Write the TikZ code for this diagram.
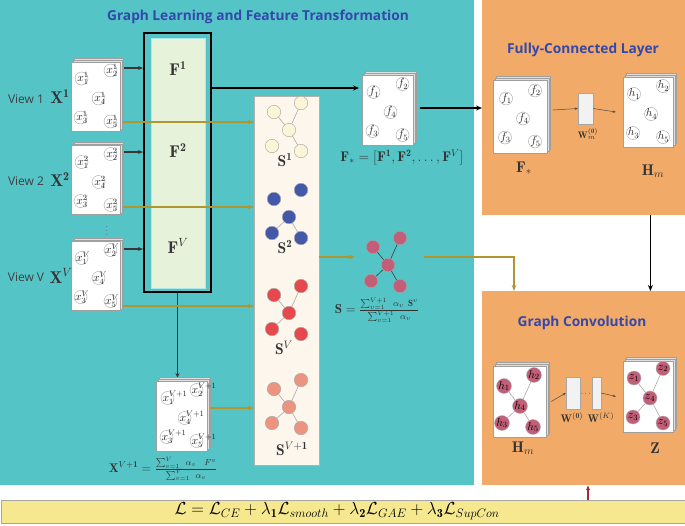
\RequirePackage{fix-cm}
\documentclass[tikz,border=0pt]{standalone}
\usepackage{amsmath}
\usepackage{fontspec}
\newfontfamily\osans{Open Sans}
\usetikzlibrary{arrows.meta,shadows}
\definecolor{teal1}{RGB}{84,196,199}
\definecolor{orng}{RGB}{241,170,103}
\definecolor{ttlblue}{RGB}{52,72,172}
\definecolor{fgreen}{RGB}{230,242,218}
\definecolor{fedge}{RGB}{175,232,232}
\definecolor{cream}{RGB}{252,246,236}
\definecolor{olv}{RGB}{176,150,46}
\definecolor{lossy}{RGB}{246,232,142}
\definecolor{ns1}{RGB}{250,245,214}
\definecolor{ns2}{RGB}{68,88,170}
\definecolor{nsv}{RGB}{230,72,78}
\definecolor{nsv1}{RGB}{236,148,128}
\definecolor{nss}{RGB}{194,94,120}
\definecolor{redarr}{RGB}{165,40,50}
\definecolor{dkgray}{RGB}{55,55,55}
\newcommand\cfont{\fontsize{11.5}{12}\selectfont}
\begin{document}
\begin{tikzpicture}[x=1pt,y=-1pt,
  panel/.style={anchor=north west, inner sep=0pt, draw=none},
  ttl/.style={font=\osans\bfseries\fontsize{13.7}{15}\selectfont, text=ttlblue},
  page/.style={draw=gray!75, fill=white, line width=0.4pt, inner sep=0pt,
    double copy shadow={shadow xshift=1.8pt, shadow yshift=1.8pt, fill=gray!25, draw=gray!75}},
  circ/.style={circle, draw=gray!75, fill=white, minimum size=13pt, inner sep=0pt, line width=0.4pt},
  clbl/.style={font=\cfont, inner sep=0pt, text=black!85, xshift=#1},
  clbl/.default=1.5pt,
  gnode/.style={circle, draw=gray!70, minimum size=13.5pt, inner sep=0pt, line width=0.4pt},
  hnode/.style={circle, draw=gray!60, fill=nss, minimum size=14pt, inner sep=0pt, line width=0.4pt, font=\cfont},
  gedge/.style={draw=gray!75, line width=0.5pt},
  dk/.style={draw=dkgray, line width=1.3pt, -{Stealth[length=5pt,width=4pt]}},
  blk/.style={draw=black, line width=1.6pt, -{Stealth[length=6pt,width=5pt]}},
  olvarr/.style={draw=olv, line width=1.4pt, -{Stealth[length=6pt,width=4.5pt]}},
  thinarr/.style={draw=gray!60!black, line width=0.5pt, -{Stealth[length=3pt,width=2.5pt]}},
  redar/.style={draw=redarr, line width=1.2pt, -{Stealth[length=5pt,width=4pt]}},
  wbox/.style={draw=gray!70, fill=gray!10, line width=0.4pt, inner sep=0pt},
  mlbl/.style={font=\fontsize{15.5}{17}\selectfont, text=black!80, inner sep=1pt},
  blbl/.style={font=\fontsize{17}{19}\selectfont, text=black!80, inner sep=1pt},
  view/.style={font=\osans\fontsize{12}{14}\selectfont, text=black!75, inner sep=1pt}
]
\useasboundingbox (0,0) rectangle (685,525);
% panels
\node[panel, fill=teal1, minimum width=474pt, minimum height=485pt] (GL) at (0,0) {};
\node[panel, fill=orng, minimum width=203pt, minimum height=215pt] (FC) at (482,0) {};
\node[panel, fill=orng, minimum width=203pt, minimum height=194pt] (GC) at (482,291) {};
\node[panel, fill=lossy, draw=gray!70, line width=0.8pt, minimum width=684pt, minimum height=23pt] (Loss) at (0.5,500) {};
% titles
\node[ttl] (tGL) at (258,17) {Graph Learning and Feature Transformation};
\node[ttl] (tFC) at (583,50) {Fully-Connected Layer};
\node[ttl] (tGC) at (582,323) {Graph Convolution};
\node[font=\fontsize{17.5}{19}\selectfont] (lossT) at (337,511)
  {$\mathcal{L}=\mathcal{L}_{CE}+\lambda_{\mathbf 1}\mathcal{L}_{smooth}+\lambda_{\mathbf 2}\mathcal{L}_{GAE}+\lambda_{\mathbf 3}\mathcal{L}_{SupCon}$};
% F column
\node[draw=black, line width=2pt, fill=teal1, minimum width=67pt, minimum height=259pt, inner sep=0pt] (Fout) at (177.5,162.5) {};
\node[draw=fedge, line width=1pt, fill=fgreen, minimum width=54pt, minimum height=250pt, inner sep=0pt] (Fin) at (178,163) {};
\node[blbl] (F1) at (178,69) {$\mathbf{F}^{\mathbf 1}$};
\node[blbl] (F2) at (178,151) {$\mathbf{F}^{\mathbf 2}$};
\node[blbl] (FV) at (178,246) {$\mathbf{F}^{V}$};
% S column
\node[draw=gray!60, fill=cream, line width=0.5pt, minimum width=65pt, minimum height=369pt, inner sep=0pt] (Scol) at (286.5,280.5) {};
% arrows X -> F (dark)
\coordinate (d1) at (124,68);
\coordinate (d2) at (124,152);
\coordinate (d3) at (124,249);
\draw[dk] (d1) -- (d1 -| Fout.west);
\draw[dk] (d2) -- (d2 -| Fout.west);
\draw[dk] (d3) -- (d3 -| Fout.west);
% F -> Fstar
\coordinate (fa) at (359,88);
\draw[blk] (fa -| Fout.east) -- (fa);
% F -> X^{V+1}
\coordinate (xvtop) at (177.5,378);
\draw[dk, line width=1pt] (Fout.south) -- (xvtop);
% blocks
\newcommand\cblk[8]{% name, cx, cy, w, h, letter, sup, label shift
 \begin{scope}[shift={(#2,#3)}]
  \node[page, minimum width=#4pt, minimum height=#5pt] (#1) at (0,0) {};
  \node[circ, label={[clbl=#8]center:$#6_1^{#7}$}] (#1-1) at (-14,-18) {};
  \node[circ, label={[clbl=#8]center:$#6_2^{#7}$}] (#1-2) at (15,-26) {};
  \node[circ, label={[clbl=#8]center:$#6_4^{#7}$}] (#1-4) at (3,2) {};
  \node[circ, label={[clbl=#8]center:$#6_3^{#7}$}] (#1-3) at (-15,21) {};
  \node[circ, label={[clbl=#8]center:$#6_5^{#7}$}] (#1-5) at (15,25) {};
 \end{scope}}
\cblk{X1}{95.5}{96.5}{49}{69}{x}{1}{1.5pt}
\cblk{X2}{95.5}{180}{49}{69}{x}{2}{1.5pt}
\cblk{XV}{95.5}{276}{49}{69}{x}{V}{1.5pt}
\cblk{XV1}{181.5}{416}{51}{70}{x}{V+1}{7.5pt}
\cblk{Fs}{387.5}{110}{51}{70}{f}{}{0.5pt}
\cblk{Fs2}{520}{116.5}{54}{73}{f}{}{0.5pt}
\cblk{Hm}{648}{112}{50}{70}{h}{}{0.5pt}
\node[view] (v1) at (26,99) {View 1};
\node[blbl] (lX1) at (60,97) {$\mathbf{X}^{\mathbf 1}$};
\node[view] (v2) at (26,181) {View 2};
\node[blbl] (lX2) at (60,180) {$\mathbf{X}^{\mathbf 2}$};
\node[view] (v3) at (26,277) {View V};
\node[blbl] (lXV) at (61,276) {$\mathbf{X}^{V}$};
\node[font=\fontsize{9}{10}\selectfont, text=black!70] (vd) at (107,228) {$\vdots$};
% olive arrows X -> S column
\coordinate (o1) at (123,122);
\coordinate (o2) at (123,207);
\coordinate (o3) at (123,306);
\coordinate (o4) at (210,408);
\draw[olvarr] (o1) -- (o1 -| Scol.west);
\draw[olvarr] (o2) -- (o2 -| Scol.west);
\draw[olvarr] (o3) -- (o3 -| Scol.west);
\draw[olvarr] (o4) -- (o4 -| Scol.west);
% captions
\node[font=\fontsize{14}{16}\selectfont, text=black!80, inner sep=1pt] (cF) at (402,157) {$\mathbf{F}_{*}=[\mathbf{F}^{\mathbf 1},\mathbf{F}^{\mathbf 2},\ldots,\mathbf{F}^{V}]$};
\node[font=\fontsize{12.5}{14}\selectfont, text=black!80, inner sep=1pt, anchor=west] (cX) at (108,469) {$\mathbf{X}^{V+\mathbf{1}}=\frac{\sum_{v=1}^{V}\ \alpha_v\ \ F^v}{\sum_{v=1}^{V}\ \alpha_v}$};
\node[font=\fontsize{13}{15}\selectfont, text=black!80, inner sep=1pt] (cS) at (377,310) {$\mathbf{S}=\frac{\sum_{v=1}^{V+1}\ \alpha_v\ \mathbf{S}^v}{\sum_{v=1}^{V+1}\ \alpha_v}$};
% graphs
\newcommand\sgraph[4]{% name, cx, cy, color
 \begin{scope}[shift={(#2,#3)}]
  \node[gnode, fill=#4] (#1a) at (-15,-18) {};
  \node[gnode, fill=#4] (#1b) at (12,-27) {};
  \node[gnode, fill=#4] (#1c) at (0,0) {};
  \node[gnode, fill=#4] (#1d) at (-17,16) {};
  \node[gnode, fill=#4] (#1e) at (12,21) {};
 \end{scope}}
\sgraph{sa}{289}{130}{ns1}
\draw[gedge] (saa) -- (sac) (sab) -- (sac) (sac) -- (sae);
\sgraph{sb}{289}{217}{ns2}
\draw[gedge] (sbc) -- (sbd) (sbc) -- (sbe);
\sgraph{sv}{289}{313}{nsv}
\draw[gedge] (sva) -- (svc) (svb) -- (svc) (svc) -- (svd);
\sgraph{sw}{289}{407}{nsv1}
\draw[gedge] (swa) -- (swc) (swb) -- (swc) (swc) -- (swd) (swc) -- (swe);
\sgraph{ss}{388}{265}{nss}
\draw[gedge, draw=gray!50!black, line width=0.6pt] (ssa) -- (ssc) (ssb) -- (ssc) (ssc) -- (ssd) (ssc) -- (sse);
\node[mlbl] (lS1) at (285,160) {$\mathbf{S}^{\mathbf 1}$};
\node[mlbl] (lS2) at (285,247) {$\mathbf{S}^{\mathbf 2}$};
\node[mlbl] (lSV) at (284,348) {$\mathbf{S}^{V}$};
\node[mlbl] (lSW) at (292,449) {$\mathbf{S}^{V+\mathbf 1}$};
% S column -> S graph -> GC
\coordinate (sa) at (355,257);
\draw[olvarr] (sa -| Scol.east) -- (sa);
\coordinate (sb) at (424,257);
\draw[olvarr] (sb) -| ([xshift=32pt]GC.north west);
% Fstar -> FC
\coordinate (fb) at (420,108);
\draw[blk] (fb) -- (fb -| FC.west);
% FC -> GC
\draw[blk] ([xshift=-35pt]FC.south east) -- ([xshift=-35pt]GC.north east);
% loss -> GC
\coordinate (ra) at ([xshift=106pt]GC.south west);
\draw[redar] (ra |- Loss.north) -- (ra);
% FC internals
\node[wbox, minimum width=15pt, minimum height=31pt] (Wm) at (585.5,108.5) {};
\node[font=\fontsize{9.5}{10}\selectfont, text=black!80] (lWm) at (588,134) {$\mathbf{W}_m^{(\mathbf 0)}$};
\coordinate (t1) at (553,110);
\draw[thinarr] (t1) -- (Wm.west);
\draw[thinarr] (Wm.east) -- ([xshift=-7pt]Hm.west);
\node[mlbl] (lFs2) at (524,168) {$\mathbf{F}_{*}$};
\node[mlbl] (lHm) at (653,171) {$\mathbf{H}_{m}$};
% GC internals
\begin{scope}[shift={(519.5,401.5)}]
 \node[page, minimum width=53pt, minimum height=71pt] (Hb) at (0,0) {};
 \node[hnode] (Hb1) at (-15.5,-15.5) {$h_1$};
 \node[hnode] (Hb2) at (14.5,-26.5) {$h_2$};
 \node[hnode] (Hb4) at (0.5,4.5) {$h_4$};
 \node[hnode] (Hb3) at (-17.5,21.5) {$h_3$};
 \node[hnode] (Hb5) at (13.5,25.5) {$h_5$};
\end{scope}
\draw[gedge] (Hb1) -- (Hb4) (Hb2) -- (Hb4) (Hb4) -- (Hb3) (Hb4) -- (Hb5);
\begin{scope}[shift={(648,396.5)}]
 \node[page, minimum width=50pt, minimum height=71pt] (Zb) at (0,0) {};
 \node[hnode] (Zb1) at (-14,-18.5) {$z_1$};
 \node[hnode] (Zb2) at (15,-28) {$z_2$};
 \node[hnode] (Zb4) at (2,1.5) {$z_4$};
 \node[hnode] (Zb3) at (-15,20.5) {$z_3$};
 \node[hnode] (Zb5) at (15,26.5) {$z_5$};
\end{scope}
\draw[gedge] (Zb1) -- (Zb4) (Zb2) -- (Zb4) (Zb4) -- (Zb3) (Zb4) -- (Zb5);
\node[wbox, minimum width=14pt, minimum height=32pt] (W0) at (573,393) {};
\node[wbox, minimum width=9pt, minimum height=32pt] (WK) at (596.5,393) {};
\node[font=\fontsize{7}{8}\selectfont] (wd) at (586.5,394) {$\cdots$};
\node[font=\fontsize{11}{12}\selectfont, text=black!80] (lW0) at (572,418) {$\mathbf{W}^{(\mathbf 0)}$};
\node[font=\fontsize{11}{12}\selectfont, text=black!80] (lWK) at (601,418) {$\mathbf{W}^{(K)}$};
\draw[thinarr] ([xshift=5pt]Hb.east) -- (W0.west);
\draw[thinarr] (WK.east) -- ([xshift=-7pt]Zb.west);
\node[mlbl] (lHb) at (523,448) {$\mathbf{H}_{m}$};
\node[mlbl] (lZ) at (655,448) {$\mathbf{Z}$};
\end{tikzpicture}
\end{document}
